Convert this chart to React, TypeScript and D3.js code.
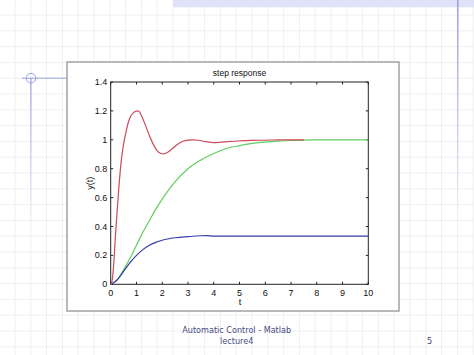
import React from 'react';
import * as d3 from 'd3';

// step response curves
const redT = [0, 0.05, 0.1, 0.2, 0.3, 0.4, 0.5, 0.6, 0.7, 0.8, 0.9, 1.0, 1.05, 1.1, 1.2, 1.35, 1.5, 1.65, 1.8, 1.95, 2.05, 2.2, 2.4, 2.6, 2.8, 3.0, 3.2, 3.4, 3.7, 4.0, 4.3, 4.8, 5.5, 6.5, 7.5];
const redY = [0, 0.02, 0.1, 0.38, 0.63, 0.84, 0.97, 1.06, 1.13, 1.17, 1.19, 1.199, 1.2, 1.197, 1.165, 1.1, 1.03, 0.97, 0.925, 0.905, 0.902, 0.912, 0.94, 0.97, 0.99, 0.998, 1.0, 0.997, 0.987, 0.981, 0.984, 0.99, 0.996, 0.999, 1.0];

const greenT = [0, 0.25, 0.5, 0.75, 1.0, 1.25, 1.5, 1.75, 2.0, 2.5, 3.0, 3.5, 4.0, 4.5, 5.0, 5.5, 6.0, 6.5, 7.0, 7.5, 8.0, 9.0, 10.0];
const greenY = [0, 0.03, 0.1, 0.18, 0.27, 0.36, 0.44, 0.52, 0.59, 0.71, 0.8, 0.86, 0.905, 0.94, 0.96, 0.975, 0.985, 0.991, 0.995, 0.998, 0.999, 1.0, 1.0];

const blueT = [0, 0.25, 0.5, 0.75, 1.0, 1.25, 1.5, 1.75, 2.0, 2.5, 3.0, 3.5, 3.75, 4.0, 5.0, 10.0];
const blueY = [0, 0.03, 0.09, 0.15, 0.2, 0.24, 0.27, 0.29, 0.305, 0.322, 0.33, 0.336, 0.337, 0.334, 0.333, 0.333];

const xTicks = [0, 1, 2, 3, 4, 5, 6, 7, 8, 9, 10];
const yTicks = [0, 0.2, 0.4, 0.6, 0.8, 1, 1.2, 1.4];

const W = 474;
const H = 355;
const plot = { left: 110.7, right: 368.3, top: 82, bottom: 284.3 };

export default function App() {
  const x = d3.scaleLinear().domain([0, 10]).range([plot.left, plot.right]);
  const y = d3.scaleLinear().domain([0, 1.4]).range([plot.bottom, plot.top]);

  const line = d3.line<[number, number]>()
    .x(d => x(d[0]))
    .y(d => y(d[1]))
    .curve(d3.curveMonotoneX);

  const series = [
    { t: greenT, v: greenY, color: '#5fcf5f' },
    { t: blueT, v: blueY, color: '#3a3aa8' },
    { t: redT, v: redY, color: '#cc4a5a' },
  ];

  // background slide grid
  const pitch = 15.8;
  const gridX = d3.range(-0.8, W, pitch);
  const gridY = d3.range(-0.8, H, pitch);

  const labelFont = '"Liberation Sans", Arial, sans-serif';
  const footFont = "Tahoma, 'DejaVu Sans Condensed', 'Liberation Sans', sans-serif";

  return (
    <svg width={W} height={H} style={{ position: 'fixed', left: 0, top: 0 }}>
      <defs>
        <linearGradient id="fadeDown" x1="0" y1="0" x2="0" y2="1">
          <stop offset="0%" stopColor="#9aa0dc" stopOpacity={1} />
          <stop offset="100%" stopColor="#9aa0dc" stopOpacity={0} />
        </linearGradient>
      </defs>
      <rect width={W} height={H} fill="#ffffff" />
      {gridX.map((gx, i) => (
        <line key={'gx' + i} x1={gx} x2={gx} y1={0} y2={H} stroke="#efeff4" strokeWidth={1} />
      ))}
      {gridY.map((gy, i) => (
        <line key={'gy' + i} x1={0} x2={W} y1={gy} y2={gy} stroke="#efeff4" strokeWidth={1} />
      ))}

      {/* slide decorations */}
      <rect x={173} y={0} width={W - 173} height={7.3} fill="#dfe2f8" />
      <rect x={457} y={0} width={1.5} height={220} fill="url(#fadeDown)" />
      <line x1={22} x2={67} y1={78.2} y2={78.2} stroke="#9aa0dc" strokeWidth={1} />
      <rect x={30.3} y={78.2} width={1.2} height={150} fill="url(#fadeDown)" />
      <circle cx={31} cy={78.2} r={4.8} fill="none" stroke="#9aa0dc" strokeWidth={1} />

      {/* figure window */}
      <rect x={67} y={62} width={332} height={249} fill="#ffffff" stroke="#a3a3a8" strokeWidth={1.5} />

      <text x={(plot.left + plot.right) / 2} y={76} textAnchor="middle" fontFamily={labelFont} fontSize={8.5} fill="#111">
        step response
      </text>

      {/* axes box */}
      <rect x={plot.left} y={plot.top} width={plot.right - plot.left} height={plot.bottom - plot.top}
        fill="none" stroke="#222" strokeWidth={1} />

      {xTicks.map(t => (
        <g key={'xt' + t}>
          <line x1={x(t)} x2={x(t)} y1={plot.bottom} y2={plot.bottom - 2.5} stroke="#222" />
          <line x1={x(t)} x2={x(t)} y1={plot.top} y2={plot.top + 2.5} stroke="#222" />
          <text x={x(t)} y={295.5} textAnchor="middle" fontFamily={labelFont} fontSize={9} fill="#111">{t}</text>
        </g>
      ))}
      {yTicks.map(v => (
        <g key={'yt' + v}>
          <line x1={plot.left} x2={plot.left + 2.5} y1={y(v)} y2={y(v)} stroke="#222" />
          <line x1={plot.right} x2={plot.right - 2.5} y1={y(v)} y2={y(v)} stroke="#222" />
          <text x={plot.left - 3.5} y={y(v) + 3} textAnchor="end" fontFamily={labelFont} fontSize={9} fill="#111">{v}</text>
        </g>
      ))}

      <text x={240} y={305} textAnchor="middle" fontFamily={labelFont} fontSize={9} fill="#111">t</text>
      <text transform={`translate(93,${(plot.top + plot.bottom) / 2}) rotate(-90)`} textAnchor="middle"
        fontFamily={labelFont} fontSize={9} fill="#111">y(t)</text>

      {series.map((s, i) => (
        <path key={'s' + i}
          d={line(s.t.map((t, j) => [t, s.v[j]] as [number, number])) || ''}
          fill="none" stroke={s.color} strokeWidth={1.2} />
      ))}

      {/* slide footer */}
      <text x={236.7} y={332.5} textAnchor="middle" fontFamily={footFont} fontSize={9} fill="#4a4a80">Automatic Control - Matlab</text>
      <text x={236.7} y={343.5} textAnchor="middle" fontFamily={footFont} fontSize={9} fill="#4a4a80">lecture4</text>
      <text x={429.5} y={343.5} textAnchor="middle" fontFamily={footFont} fontSize={9} fill="#4a4a80">5</text>
    </svg>
  );
}
